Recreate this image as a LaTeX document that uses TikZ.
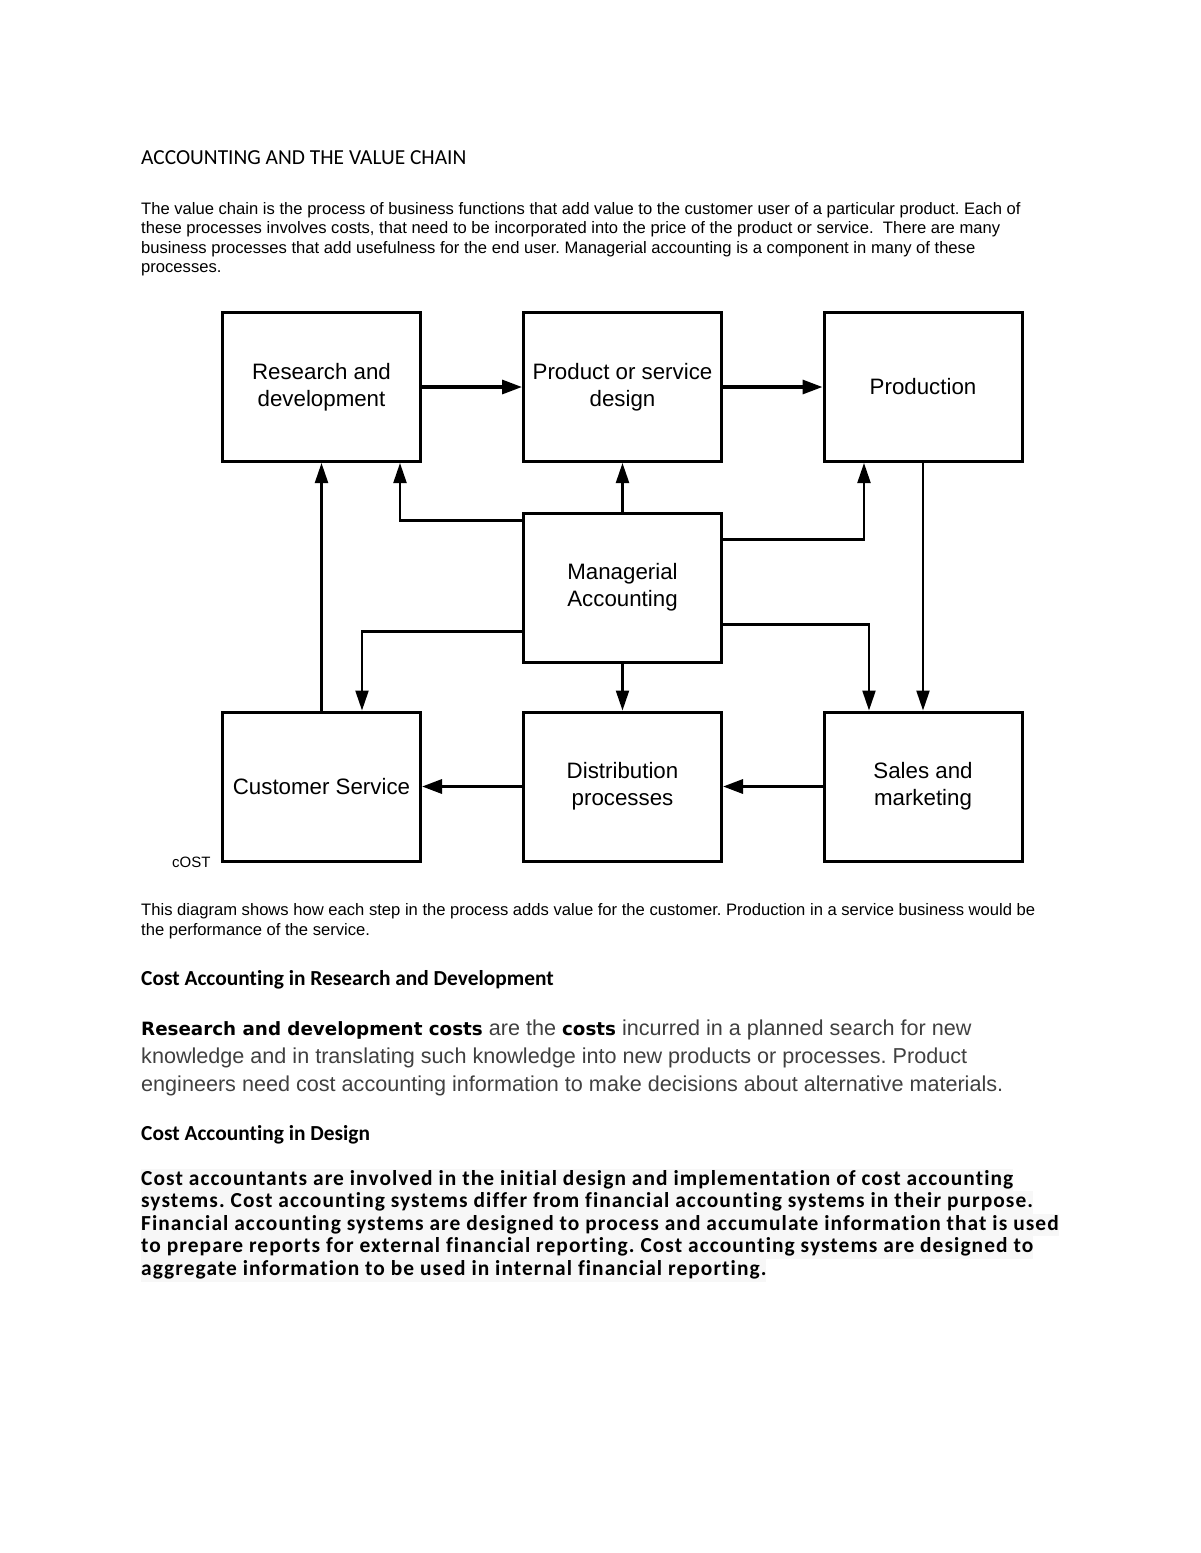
\documentclass[tikz,border=0pt]{standalone}
\usepackage{fontspec}
\setmainfont{Liberation Sans}
\newfontfamily\calibri[Ligatures=NoCommon]{Carlito}
\newfontfamily\calibriwide[LetterSpace=5,Ligatures=NoCommon]{Carlito}
\newfontfamily\verdana{DejaVu Sans}
\usetikzlibrary{arrows.meta}
\frenchspacing

\begin{document}
\begin{tikzpicture}[x=1pt, y=-1pt,
  stage/.style={draw, line width=3pt, minimum width=198pt, minimum height=149pt, align=center, inner sep=0pt, font=\fontsize{22.3}{27}\selectfont},
  flow/.style={line width=3.2pt, -{Triangle[length=20pt,width=14pt]}},
  link/.style={line width=2.2pt, -{Triangle[length=20pt,width=13pt]}},
  textline/.style={anchor=base west, inner sep=0pt},
  body/.style={font=\fontsize{16.6}{19.5}\selectfont},
  heading/.style={font=\calibri\bfseries\fontsize{21.4}{26}\selectfont},
  boldtext/.style={font=\calibriwide\bfseries\fontsize{21.4}{26}\selectfont, fill=black!3, text height=16.5pt, text depth=6.2pt}]
\fill[white] (0,0) rectangle (1200,1553);
\useasboundingbox (0,0) rectangle (1200,1553);

% title and introduction
\node[textline, font=\calibri\fontsize{21.4}{26}\selectfont] (title) at (141,164) {ACCOUNTING AND THE VALUE CHAIN};
\foreach \t [count=\i] in {{The value chain is the process of business functions that add value to the customer user of a particular product. Each of},
  {these processes involves costs, that need to be incorporated into the price of the product or service.~ There are many},
  {business processes that add usefulness for the end user. Managerial accounting is a component in many of these},
  {processes.}}
  \node[textline, body] (intro-\i) at (141,{214+19.5*(\i-1)}) {\t};

% the value chain
\node[stage] (rd) at (321.5,387) {Research and\\development};
\node[stage] (design) at (622.5,387) {Product or service\\design};
\node[stage] (prod) at (923,387) {Production};
\node[stage] (ma) at (622.5,587.5) {Managerial\\Accounting};
\node[stage] (cs) at (321.5,786.5) {Customer Service};
\node[stage] (dist) at (622.5,786.5) {Distribution\\processes};
\node[stage] (sales) at (923,786.5) {Sales and\\marketing};

\draw[flow] (rd) -- (design);
\draw[flow] (design) -- (prod);
\draw[flow] (sales) -- (dist);
\draw[flow] (dist) -- (cs);
\draw[link] (cs) -- (rd);
\draw[link] (prod) -- (sales);
\draw[link] (ma) -- (design);
\draw[link] (ma) -- (dist);
\draw[link] ([yshift=-9pt]ma.north west) -| ([xshift=-22pt]rd.south east);
\draw[link] ([yshift=-28pt]ma.north east) -| ([xshift=-59pt]prod.south);
\draw[link] ([yshift=32pt]ma.south west) -| ([xshift=40.5pt]cs.north);
\draw[link] ([yshift=39pt]ma.south east) -| ([xshift=-54pt]sales.north);

\node[textline, font=\fontsize{15}{18}\selectfont] (cost) at (172,867) {cOST};

% text below the diagram
\foreach \t [count=\i] in {{This diagram shows how each step in the process adds value for the customer. Production in a service business would be},
  {the performance of the service.}}
  \node[textline, body] (after-\i) at (141,{915+20*(\i-1)}) {\t};

\node[textline, heading] (rdhead) at (141,985) {Cost Accounting in Research and Development};
\foreach \t [count=\i] in {{{\color{black}\verdana\bfseries\fontsize{18.3}{28}\selectfont Research and development costs} are the {\color{black}\verdana\bfseries\fontsize{18.3}{28}\selectfont costs} incurred in a planned search for new},
  {knowledge and in translating such knowledge into new products or processes. Product},
  {engineers need cost accounting information to make decisions about alternative materials.}}
  \node[textline, text=black!75, font=\fontsize{21.6}{28}\selectfont] (rdtext-\i) at (141,{1035+28*(\i-1)}) {\t};

\node[textline, heading] (designhead) at (141,1140) {Cost Accounting in Design};
\foreach \t [count=\i] in {{Cost accountants are involved in the initial design and implementation of cost accounting},
  {systems. Cost accounting systems differ from financial accounting systems in their purpose.},
  {Financial accounting systems are designed to process and accumulate information that is used},
  {to prepare reports for external financial reporting. Cost accounting systems are designed to},
  {aggregate information to be used in internal financial reporting.}}
  \node[textline, boldtext] (designtext-\i) at (141,{1185+22.6*(\i-1)}) {\t};
\end{tikzpicture}
\end{document}
